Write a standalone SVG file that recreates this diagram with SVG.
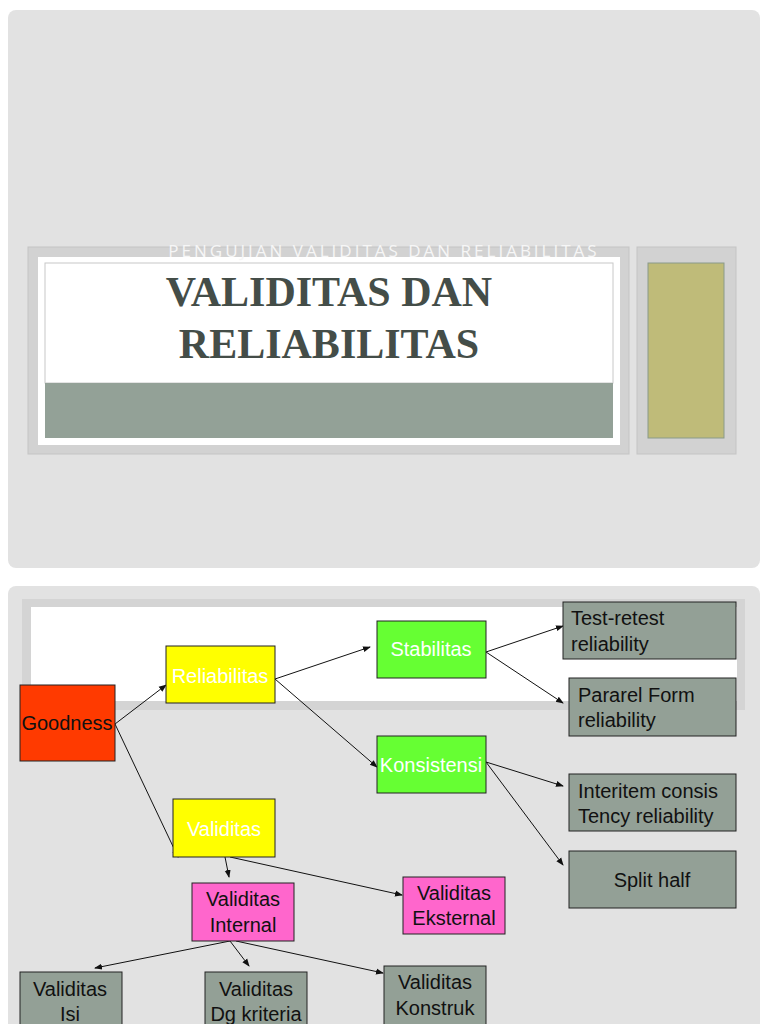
<svg xmlns="http://www.w3.org/2000/svg" width="768" height="1024" viewBox="0 0 768 1024">
<style>
.n{stroke:#222;stroke-width:1}
.g{fill:#93a096}
.t{font-family:"Liberation Sans",Arial,sans-serif;font-size:20px;fill:#111}
.w{fill:#fff}
.c line{stroke:#111;stroke-width:1;marker-end:url(#a)}
</style>
<defs><marker id="a" markerWidth="8" markerHeight="8" refX="7" refY="4" orient="auto" markerUnits="userSpaceOnUse"><path d="M0,1 L8,4 L0,7 z" fill="#111"/></marker></defs>
<rect width="768" height="1024" fill="#fff"/>
<rect x="8" y="10" width="752" height="558" rx="8" fill="#e2e2e2"/>
<rect x="8" y="586" width="752" height="450" rx="8" fill="#e2e2e2"/>
<g id="title">
<rect x="28" y="247" width="601" height="207" fill="#d2d2d2" stroke="#c4c4c4"/>
<rect x="38" y="257" width="582" height="188" fill="#fff"/>
<rect x="45" y="263" width="568" height="120" fill="#fff" stroke="#c8c8c8"/>
<rect x="45" y="383" width="568" height="55" fill="#93a197"/>
<rect x="637" y="247" width="99" height="207" fill="#d2d2d2" stroke="#c4c4c4"/>
<rect x="648" y="263" width="76" height="175" fill="#bfbb79" stroke="#8a9a8a"/>
<text x="384" y="257" text-anchor="middle" font-family="'Open Sans',sans-serif" font-size="17" letter-spacing="3" fill="#f6f6f6">PENGUJIAN VALIDITAS DAN RELIABILITAS</text>
<text x="329" y="306" text-anchor="middle" font-family="'Liberation Serif',serif" font-weight="bold" font-size="42" fill="#444d48">VALIDITAS DAN</text>
<text x="329" y="358" text-anchor="middle" font-family="'Liberation Serif',serif" font-weight="bold" font-size="42" fill="#444d48">RELIABILITAS</text>
</g>
<rect x="22" y="599" width="723" height="111" fill="#d4d4d4"/>
<rect x="31" y="607" width="706" height="94" fill="#fff"/>
<g class="c">
<line x1="115" y1="724" x2="166" y2="685"/>
<line x1="115" y1="724" x2="178" y2="857"/>
<line x1="275" y1="679" x2="370" y2="647"/>
<line x1="275" y1="679" x2="377" y2="767"/>
<line x1="486" y1="652" x2="563" y2="626"/>
<line x1="486" y1="652" x2="563" y2="703"/>
<line x1="486" y1="762" x2="563" y2="786"/>
<line x1="486" y1="762" x2="563" y2="865"/>
<line x1="225" y1="857" x2="229" y2="877"/>
<line x1="230" y1="857" x2="402" y2="895"/>
<line x1="230" y1="941" x2="95" y2="968"/>
<line x1="230" y1="941" x2="249" y2="966"/>
<line x1="236" y1="941" x2="383" y2="973"/>
</g>
<g id="goodness"><rect class="n" x="20" y="685" width="95" height="76" fill="#ff3a00"/><text class="t" x="67" y="730" text-anchor="middle" font-size="18">Goodness</text></g>
<g id="reliabilitas"><rect class="n" x="166" y="646" width="109" height="57" fill="#ffff00"/><text class="t w" x="220" y="683" text-anchor="middle" font-size="19">Reliabilitas</text></g>
<g id="stabilitas"><rect class="n" x="377" y="621" width="109" height="57" fill="#66ff33"/><text class="t w" x="431" y="656" text-anchor="middle" font-size="19">Stabilitas</text></g>
<g id="konsistensi"><rect class="n" x="377" y="736" width="109" height="57" fill="#66ff33"/><text class="t w" x="431" y="772" text-anchor="middle" font-size="19">Konsistensi</text></g>
<g id="testretest"><rect class="n g" x="563" y="602" width="173" height="57"/><text class="t" x="571" y="625">Test-retest</text><text class="t" x="571" y="651">reliability</text></g>
<g id="pararel"><rect class="n g" x="569" y="678" width="167" height="58"/><text class="t" x="578" y="702">Pararel Form</text><text class="t" x="578" y="727">reliability</text></g>
<g id="interitem"><rect class="n g" x="569" y="774" width="167" height="57"/><text class="t" x="578" y="798">Interitem consis</text><text class="t" x="578" y="823">Tency reliability</text></g>
<g id="split"><rect class="n g" x="569" y="851" width="167" height="57"/><text class="t" x="652" y="887" text-anchor="middle">Split half</text></g>
<g id="validitas"><rect class="n" x="173" y="799" width="102" height="58" fill="#ffff00"/><text class="t w" x="224" y="836" text-anchor="middle" font-size="19">Validitas</text></g>
<g id="internal"><rect class="n" x="192" y="883" width="102" height="58" fill="#ff66cc"/><text class="t" x="243" y="906" text-anchor="middle">Validitas</text><text class="t" x="243" y="932" text-anchor="middle">Internal</text></g>
<g id="eksternal"><rect class="n" x="403" y="877" width="102" height="57" fill="#ff66cc"/><text class="t" x="454" y="900" text-anchor="middle">Validitas</text><text class="t" x="454" y="925" text-anchor="middle">Eksternal</text></g>
<g id="isi"><rect class="n g" x="20" y="972" width="102" height="60"/><text class="t" x="70" y="996" text-anchor="middle">Validitas</text><text class="t" x="70" y="1021" text-anchor="middle">Isi</text></g>
<g id="kriteria"><rect class="n g" x="205" y="972" width="102" height="60"/><text class="t" x="256" y="996" text-anchor="middle">Validitas</text><text class="t" x="256" y="1021" text-anchor="middle">Dg kriteria</text></g>
<g id="konstruk"><rect class="n g" x="384" y="966" width="102" height="66"/><text class="t" x="435" y="989" text-anchor="middle">Validitas</text><text class="t" x="435" y="1015" text-anchor="middle">Konstruk</text></g>
</svg>
